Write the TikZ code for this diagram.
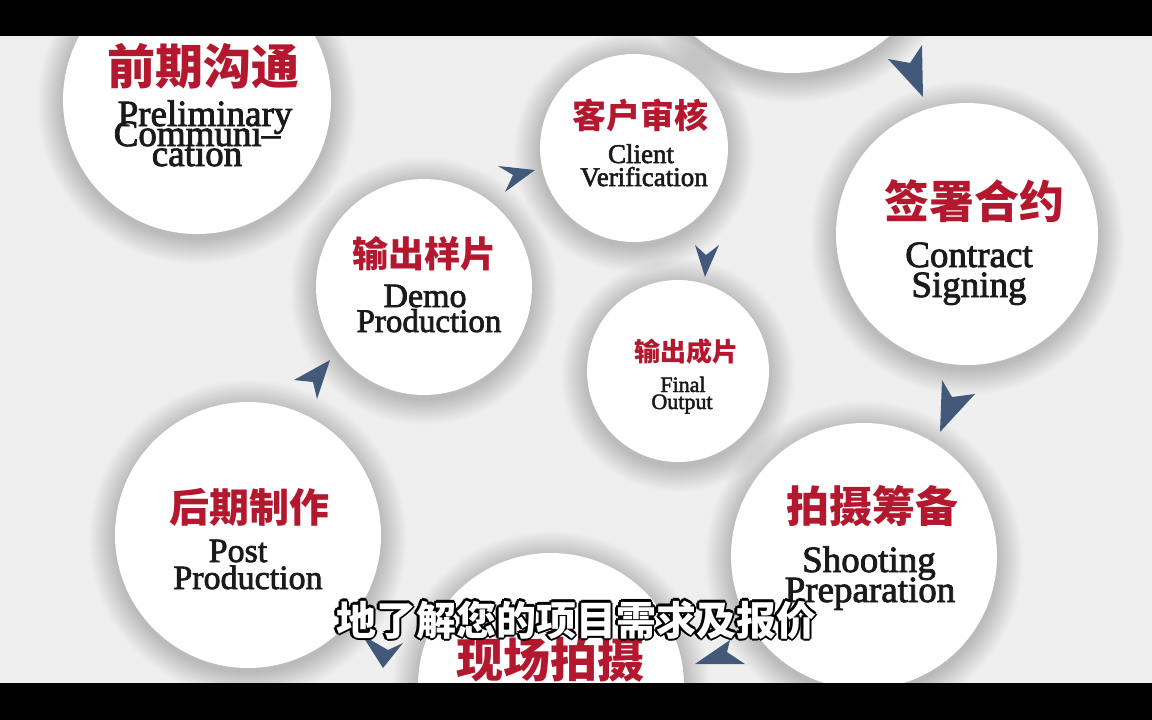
\documentclass[tikz,border=0pt]{standalone}
\usepackage{fontspec}
\usetikzlibrary{calc}
\setmainfont{Liberation Serif}
\newfontfamily\enf{Liberation Serif}[FakeBold=2.2]
\newfontfamily\cjk{Noto Sans CJK SC}
\definecolor{zhred}{HTML}{B3182E}
\definecolor{arrowc}{HTML}{42597A}
\definecolor{bgc}{HTML}{EFEFEF}
\definecolor{entext}{HTML}{1A1A1A}
\newcommand{\zhf}[1]{\cjk\bfseries\fontsize{#1}{#1}\selectfont}
\newcommand{\enfs}[1]{\enf\fontsize{#1}{#1}\selectfont}
\tikzset{
  bub/.style={circle, fill=white, inner sep=0pt},
  zh/.style={text=zhred, inner sep=0pt},
  en/.style={text=entext, inner sep=0pt, anchor=base},
  arr/.style={fill=arrowc},
}
\begin{document}
\begin{tikzpicture}[x=1pt,y=-1pt]
\useasboundingbox (0,0) rectangle (1152,720);
\fill[bgc] (0,0) rectangle (1152,720);
% soft shadows
\foreach \cx/\cy/\r in {197/100/134, 792/-73/146, 634/148/94, 967/234/131, 424/287/108, 678/371/91, 248/535/133, 864/556/133, 551/686/133}{
  \foreach \k in {1,...,26}{
    \fill[black,opacity=0.0075] (\cx,\cy+4) circle ({\r+27-\k});
  }
}
% circles
\node[bub, minimum size=268pt] (prelim) at (197,100) {};
\node[bub, minimum size=292pt] (topc) at (792,-73) {};
\node[bub, minimum size=188pt] (client) at (634,148) {};
\node[bub, minimum size=262pt] (contract) at (967,234) {};
\node[bub, minimum size=216pt] (demo) at (424,287) {};
\node[bub, minimum size=182pt] (final) at (678,371) {};
\node[bub, minimum size=266pt] (post) at (248,535) {};
\node[bub, minimum size=266pt] (shoot) at (864,556) {};
\node[bub, minimum size=266pt] (onsite) at (551,686) {};
% texts
\node[zh, font={\zhf{48}}] (t1zh) at (203,66) {前期沟通};
\node[en, font={\enfs{37}}] (t1a) at (205,126) {Preliminary};
\node[en, font={\enfs{37}}] (t1b) at (197,146) {Communi–};
\node[en, font={\enfs{37}}] (t1c) at (197,166) {cation};

\node[zh, font={\zhf{34}}] (t3zh) at (640,115) {客户审核};
\node[en, font={\enfs{27}}] (t3a) at (641,163) {Client};
\node[en, font={\enfs{27}}] (t3b) at (644,186) {Verification};

\node[zh, font={\zhf{45}}] (t4zh) at (974,201) {签署合约};
\node[en, font={\enfs{37}}] (t4a) at (969,267) {Contract};
\node[en, font={\enfs{37}}] (t4b) at (969,297) {Signing};

\node[zh, font={\zhf{36}}] (t5zh) at (424,254) {输出样片};
\node[en, font={\enfs{34}}] (t5a) at (425,307) {Demo};
\node[en, font={\enfs{33}}] (t5b) at (429,332) {Production};

\node[zh, font={\zhf{26}}] (t6zh) at (686,352) {输出成片};
\node[en, font={\enfs{22}}] (t6a) at (683,392) {Final};
\node[en, font={\enfs{22}}] (t6b) at (682,409) {Output};

\node[zh, font={\zhf{40}}] (t7zh) at (249,507) {后期制作};
\node[en, font={\enfs{34}}] (t7a) at (238,562) {Post};
\node[en, font={\enfs{34}}] (t7b) at (248,589) {Production};

\node[zh, font={\zhf{43}}] (t8zh) at (872,506) {拍摄筹备};
\node[en, font={\enfs{37}}] (t8a) at (869,572) {Shooting};
\node[en, font={\enfs{37}}] (t8b) at (870,602) {Preparation};

\node[zh, font={\zhf{47}}] (t9zh) at (550,660) {现场拍摄};
% arrowheads
\fill[arr] (923,97) -- (888,59) -- (910,63) -- (922,45) -- cycle;
\fill[arr] (940,432) -- (942,380) -- (952,397) -- (975,394) -- cycle;
\fill[arr] (695,664) -- (730,640) -- (727,652) -- (745,664) -- cycle;
\fill[arr] (383,668) -- (362,635) -- (388,650) -- (403,643) -- cycle;
\fill[arr] (330,360) -- (294,380) -- (313,382) -- (317,399) -- cycle;
\fill[arr] (535,170) -- (498,166) -- (513,175) -- (505,192) -- cycle;
\fill[arr] (705,277) -- (695,245) -- (706,255) -- (719,245) -- cycle;
% black bars
\fill[black] (0,0) rectangle (1152,36);
\fill[black] (0,683) rectangle (1152,720);
% subtitle (outlined)
\foreach \a in {0,45,...,315}{
  \node[font={\zhf{40}}, text=black, inner sep=0pt] (subo\a) at ($(576,620)+(\a:2.4)$) {地了解您的项目需求及报价};
}
\node[font={\zhf{40}}, text=white, inner sep=0pt] (sub) at (576,620) {地了解您的项目需求及报价};
\end{tikzpicture}
\end{document}
